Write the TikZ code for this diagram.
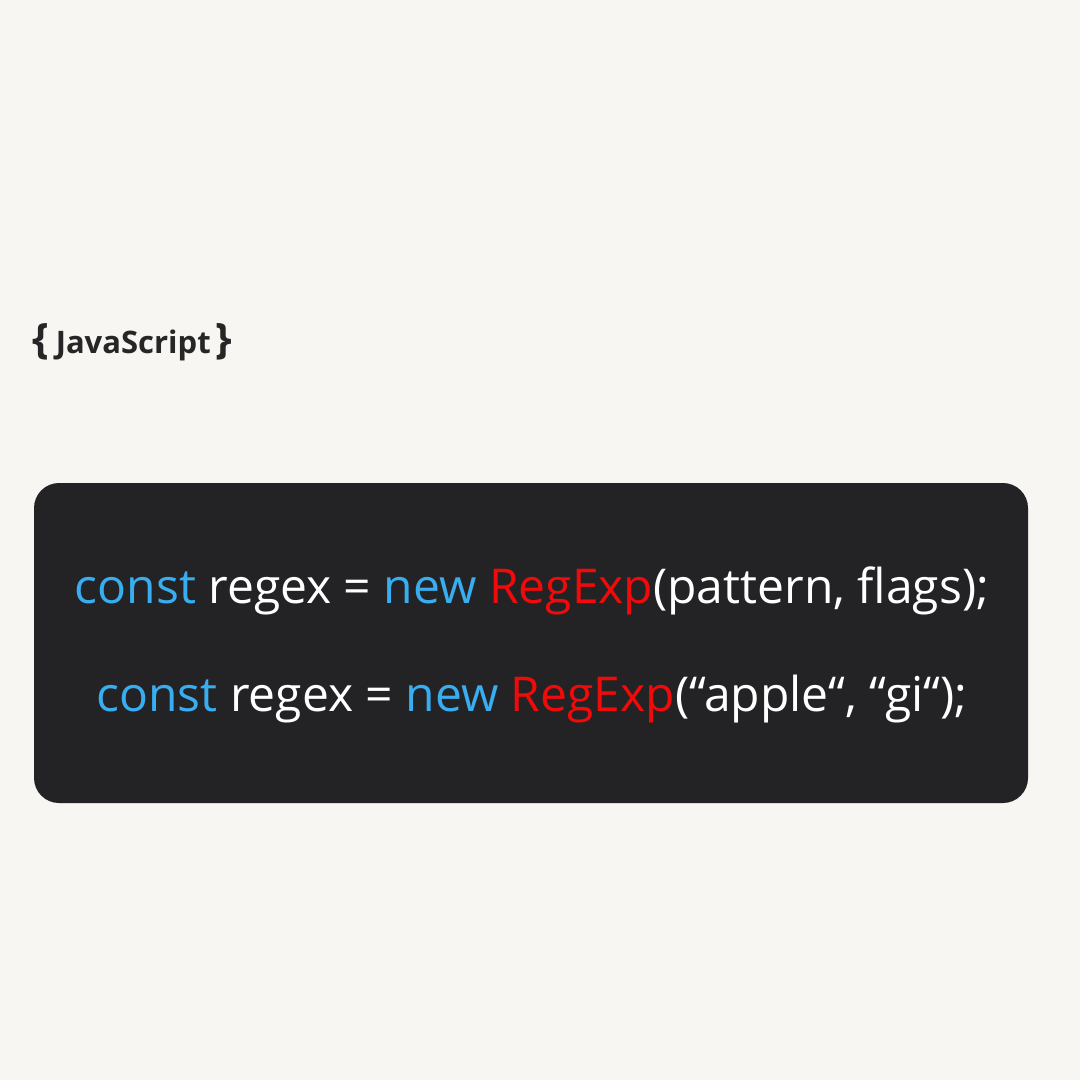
\documentclass[tikz,border=0pt]{standalone}
\usepackage{fontspec}
\setmainfont{Open Sans}
\definecolor{bg}{HTML}{F7F6F2}
\definecolor{panel}{HTML}{232325}
\definecolor{kw}{HTML}{38AEF0}
\definecolor{cls}{HTML}{F00A0A}
\begin{document}
\begin{tikzpicture}[x=1pt,y=-1pt,
  code/.style={font=\fontsize{48}{56}\selectfont, text=white, inner sep=0pt, anchor=base}]
\fill[bg] (0,0) rectangle (1080,1080);
\useasboundingbox (0,0) rectangle (1080,1080);
\node[inner sep=0pt, anchor=base west, font=\fontsize{31}{36}\selectfont\bfseries, text=black!85] (logo) at (32,353) {{\fontsize{42}{42}\selectfont\{}\hspace{7pt}JavaScript\hspace{5pt}{\fontsize{42}{42}\selectfont\}}};
\fill[panel, rounded corners=25] (34,483) rectangle (1028,803);
\node[code] (l1) at (532,603) {\textcolor{kw}{const} regex = \textcolor{kw}{new} \textcolor{cls}{RegExp}(pattern, flags);};
\node[code] (l2) at (532,711) {\textcolor{kw}{const} regex = \textcolor{kw}{new} \textcolor{cls}{RegExp}(“apple“, “gi“);};
\end{tikzpicture}
\end{document}
